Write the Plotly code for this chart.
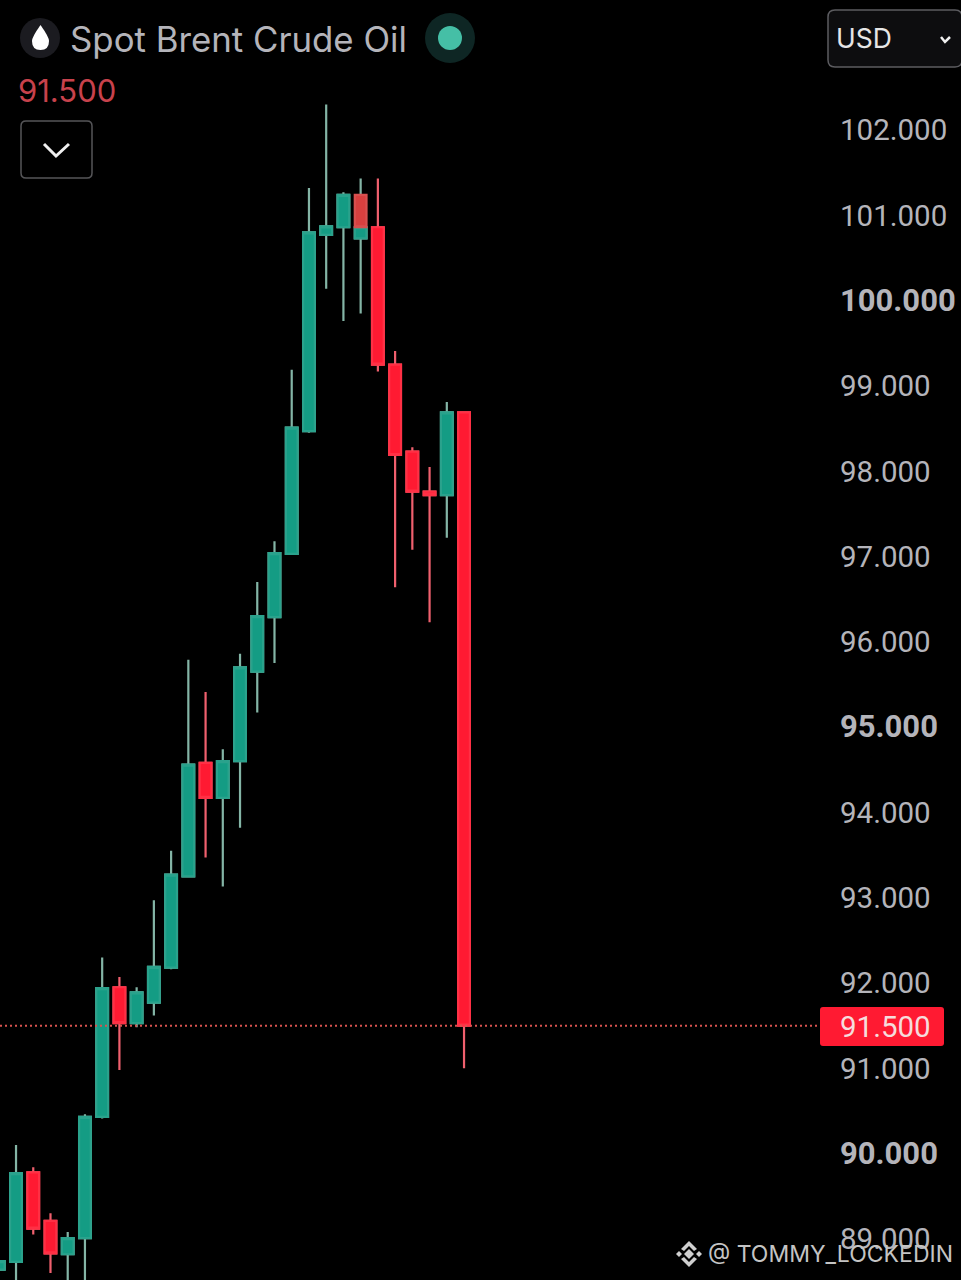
import plotly.graph_objects as go

# candles, oldest first (first one is cut by the left edge)
candle_pos = list(range(28))
open_px = [88.64, 88.73, 89.78, 89.21, 88.82, 89.01, 90.43, 91.95, 91.53, 91.77, 92.18, 93.25, 94.58, 94.17,
           94.60, 95.65, 96.29, 97.03, 98.47, 100.77, 100.86, 100.73, 100.86, 99.25, 98.23, 97.76, 97.72, 98.69]
high_px = [89.14, 90.10, 89.84, 89.30, 89.08, 90.46, 92.30, 92.07, 91.95, 92.97, 93.55, 95.79, 95.41, 94.74,
           95.86, 96.70, 97.18, 99.19, 101.32, 102.30, 101.27, 101.43, 101.43, 99.41, 98.28, 98.05, 98.81, 98.69]
low_px = [88.34, 88.40, 89.05, 88.60, 88.28, 88.40, 90.41, 90.98, 91.48, 91.62, 92.16, 93.24, 93.47, 93.13,
          93.82, 95.17, 95.75, 97.02, 98.45, 100.14, 99.76, 99.85, 99.17, 96.64, 97.08, 96.23, 97.22, 91.00]
close_px = [88.74, 89.77, 89.12, 88.83, 89.01, 90.43, 91.94, 91.53, 91.89, 92.19, 93.27, 94.56, 94.17, 94.60,
            95.70, 96.30, 97.04, 98.51, 100.80, 100.87, 101.24, 100.86, 99.25, 98.19, 97.76, 97.72, 98.69, 91.50]

# red candle drawn on top of the green one at the same slot
overlay_pos = [21]
overlay_open = [101.24]
overlay_high = [101.24]
overlay_low = [100.86]
overlay_close = [100.86]

last_price = 91.5
tick_vals = [102, 101, 100, 99, 98, 97, 96, 95, 94, 93, 92, 91, 90, 89]
BOLD = '<b><span style="font-size:31px">%s</span></b>'
tick_text = ["102.000", "101.000", BOLD % "100.000", "99.000", "98.000", "97.000", "96.000",
             BOLD % "95.000", "94.000", "93.000", "92.000", "91.000", BOLD % "90.000", "89.000"]

W, H = 961, 1280
PLOT_W = 819
GREEN = "#149c84"
RED = "#ff1a32"
GREY_TXT = "#b4b4ba"
FONT = "Inter"


# header widgets are placed in page pixels
def px(x):
    return x / PLOT_W


def py(y):
    return 1 - y / H


def poly(points, close=True):
    d = "M " + " L ".join(f"{px(x)} {py(y)}" for x, y in points)
    return d + " Z" if close else d


def round_rect(x0, y0, x1, y1, r):
    return (f"M {px(x0 + r)} {py(y0)} L {px(x1 - r)} {py(y0)} Q {px(x1)} {py(y0)} {px(x1)} {py(y0 + r)} "
            f"L {px(x1)} {py(y1 - r)} Q {px(x1)} {py(y1)} {px(x1 - r)} {py(y1)} "
            f"L {px(x0 + r)} {py(y1)} Q {px(x0)} {py(y1)} {px(x0)} {py(y1 - r)} "
            f"L {px(x0)} {py(y0 + r)} Q {px(x0)} {py(y0)} {px(x0 + r)} {py(y0)} Z")


def path_shape(path, fill="rgba(0,0,0,0)", line="rgba(0,0,0,0)", width=0):
    return dict(type="path", xref="paper", yref="paper", path=path, fillcolor=fill,
                line=dict(color=line, width=width))


def circle(cx, cy, r, fill):
    return dict(type="circle", xref="paper", yref="paper", x0=px(cx - r), x1=px(cx + r),
                y0=py(cy + r), y1=py(cy - r), fillcolor=fill, line=dict(width=0))


def label(text, x, y, size, color, anchor="left", family=FONT):
    return dict(text=text, xref="paper", yref="paper", x=px(x), y=py(y), xanchor=anchor, yanchor="middle",
                showarrow=False, font=dict(family=family, size=size, color=color))


fig = go.Figure()

# wicks (pale), bodies go over them in a second pass so the edge is not pale as well
fig.add_trace(go.Candlestick(x=candle_pos, open=open_px, high=high_px, low=low_px, close=close_px,
                             whiskerwidth=0,
                             increasing=dict(fillcolor=GREEN, line=dict(color="#84b5a6", width=2.2)),
                             decreasing=dict(fillcolor=RED, line=dict(color="#f0606e", width=2.2)),
                             showlegend=False))
fig.add_trace(go.Candlestick(x=candle_pos, open=open_px, close=close_px,
                             high=[max(o, c) for o, c in zip(open_px, close_px)],
                             low=[min(o, c) for o, c in zip(open_px, close_px)],
                             whiskerwidth=0,
                             increasing=dict(fillcolor=GREEN, line=dict(color="#2aa28c", width=2.2)),
                             decreasing=dict(fillcolor=RED, line=dict(color="#ff3045", width=2.2)),
                             showlegend=False))
fig.add_trace(go.Candlestick(x=overlay_pos, open=overlay_open, high=overlay_high, low=overlay_low, close=overlay_close,
                             whiskerwidth=0,
                             decreasing=dict(fillcolor="#d8403f", line=dict(color="#d8504f", width=2.2)),
                             showlegend=False))

shapes = [
    # last price line + tag
    dict(type="line", xref="paper", yref="y", x0=0, x1=1, y0=last_price, y1=last_price,
         line=dict(color="#d9534f", width=2, dash="2px,3px")),
    dict(type="path", xref="paper", yref="paper", fillcolor=RED, line=dict(width=0),
         path=round_rect(820, 1007, 944, 1046, 3)),
    # title icons
    circle(40, 38, 20, "#1b1b20"),
    path_shape(f"M {px(40.5)} {py(25)} Q {px(49)} {py(37)} {px(49)} {py(41)} Q {px(49)} {py(50)} {px(40.5)} {py(50)} "
               f"Q {px(32)} {py(50)} {px(32)} {py(41)} Q {px(32)} {py(37)} {px(40.5)} {py(25)} Z", fill="#ffffff"),
    circle(450, 38, 25, "#0e2624"),
    circle(450, 38, 12, "#45bfa6"),
    # collapse button
    path_shape(round_rect(21, 121, 92, 178, 5), line="#555558", width=1.5),
    path_shape(poly([(44, 144), (56, 156), (69, 144)], close=False), line="#f0f0f0", width=3),
    # currency selector
    path_shape(round_rect(828, 10, 962, 67, 7), fill="#0d0d0f", line="#5c5c60", width=1.5),
    path_shape(poly([(941, 37), (945, 42), (950, 37)], close=False), line="#f0f0f0", width=2.5),
    # watermark logo
    path_shape(poly([(689, 1249), (694, 1254), (689, 1259), (684, 1254)]), fill="#cfcfcf"),
    path_shape(poly([(679, 1251), (682, 1254), (679, 1257), (676, 1254)]), fill="#cfcfcf"),
    path_shape(poly([(699, 1251), (702, 1254), (699, 1257), (696, 1254)]), fill="#cfcfcf"),
    path_shape(poly([(689, 1241), (697, 1249), (694, 1251), (689, 1246), (684, 1251), (681, 1249)]), fill="#cfcfcf"),
    path_shape(poly([(689, 1267), (697, 1259), (694, 1257), (689, 1262), (684, 1257), (681, 1259)]), fill="#cfcfcf"),
]

annotations = [
    label("Spot Brent Crude Oil", 68, 39, 34.8, GREY_TXT),
    label("91.500", 16, 91, 31, "#c8424c"),
    label("USD", 834, 38, 26.5, "#e6e6e6"),
    label("91.500", 885, 1027, 29.5, "#f6dcdc", anchor="center", family="Roboto"),
    label("@ TOMMY_LOCKEDIN", 706, 1254, 23, "#c4c4c4"),
]

fig.update_layout(
    width=W, height=H,
    autosize=False,
    margin=dict(l=0, r=W - PLOT_W, t=0, b=0),
    paper_bgcolor="#000000",
    plot_bgcolor="#000000",
    boxgap=0.175,
    boxgroupgap=0.175,
    shapes=shapes,
    annotations=annotations,
    showlegend=False,
    xaxis=dict(range=[0.07, 47.6], visible=False, rangeslider=dict(visible=False), fixedrange=True),
    yaxis=dict(range=[88.518, 103.524], side="right", tickmode="array", tickvals=tick_vals, ticktext=tick_text,
               showgrid=False, zeroline=False, showline=False, ticks="", ticklabelstandoff=20,
               tickfont=dict(family="Roboto", size=29.5, color=GREY_TXT), fixedrange=True),
)

# page default margin would shift the whole chart by 8px
fig.write_html("out.html", config=dict(displayModeBar=False),
               post_script="document.body.style.margin='0';document.body.style.background='#000';")
